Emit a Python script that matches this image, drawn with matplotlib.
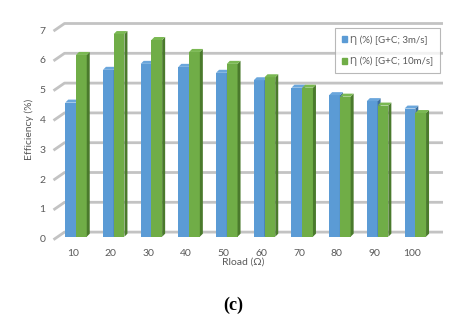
import matplotlib
matplotlib.use("Agg")
import matplotlib.pyplot as plt
from matplotlib.patches import Patch
import numpy as np

plt.rcParams['font.family'] = ['Lato', 'DejaVu Sans']

categories = ["10", "20", "30", "40", "50", "60", "70", "80", "90", "100"]
eff_3ms = [4.5, 5.6, 5.8, 5.7, 5.5, 5.25, 5.0, 4.75, 4.55, 4.3]
eff_10ms = [6.1, 6.8, 6.6, 6.2, 5.8, 5.35, 5.0, 4.7, 4.4, 4.15]
yticks = [0, 1, 2, 3, 4, 5, 6, 7]
labels = ["\u0220 (%) [G+C; 3m/s]", "\u0220 (%) [G+C; 10m/s]"]

W, H = 474, 323
fig = plt.figure(figsize=(W / 100, H / 100), dpi=100)

# pixel geometry of the plot
px_x0, px_step = 76.0, 37.7      # x pixel of cluster 0 center, spacing
px_y0, px_unit = 236.7, 29.8     # y pixel of value 0, pixels per unit
ax_left_px, ax_right_px = 50, 447
ax_top_px, ax_bot_px = 18, 244
xlim = ((ax_left_px - px_x0) / px_step, (ax_right_px - px_x0) / px_step)
ylim = ((px_y0 - ax_bot_px) / px_unit, (px_y0 - ax_top_px) / px_unit)
ax = fig.add_axes([ax_left_px / W, 1 - ax_bot_px / H,
                   (ax_right_px - ax_left_px) / W, (ax_bot_px - ax_top_px) / H])
ax.set_xlim(*xlim)
ax.set_ylim(*ylim)
ax.axis("off")

# 3D offsets (data units)
dx = 3.0 / px_step
dy = 3.0 / px_unit
back_dy = 4.6 / px_unit
diag_x0 = (53.5 - px_x0) / px_step
diag_x1 = (64.5 - px_x0) / px_step
grid_x1 = (443 - px_x0) / px_step
diag_front = -0.1

grid_col = "#c3c3c3"
for v in yticks:
    ax.plot([diag_x0, diag_x1, grid_x1], [v + diag_front, v + back_dy, v + back_dy],
            color=grid_col, lw=2.0, solid_capstyle="butt", zorder=1)
    ax.text((45.5 - px_x0) / px_step, v - 0.1, str(v), ha="right", va="center",
            fontsize=7.5, color="#595959")

x = np.arange(len(categories))
bw = 0.285

def bar3d(xc, vals, front, side, top, z):
    for xi, v in zip(xc, vals):
        l, r = xi - bw / 2, xi + bw / 2
        ax.bar(xi, v, width=bw, color=front, edgecolor="none", zorder=z)
        ax.fill([r, r + dx, r + dx, r], [0, dy, v + dy, v], color=side, lw=0, zorder=z)
        ax.fill([l, r, r + dx, l + dx], [v, v, v + dy, v + dy], color=top, lw=0, zorder=z)

bar3d(x - bw / 2, eff_3ms, "#5b9bd5", "#3d6f9e", "#6aa6dc", 2)
bar3d(x + bw / 2, eff_10ms, "#70ad47", "#4a7a2c", "#7ab852", 3)

for xi, c in zip(x, categories):
    ax.text(xi - 0.08, (px_y0 - 253.5) / px_unit, c, ha="center", va="center",
            fontsize=7.5, color="#595959")

fig.text(243.5 / W, 1 - 262 / H, "Rload (\u03a9)", ha="center", va="center",
         fontsize=7.5, color="#595959")
fig.text(29 / W, 1 - 129 / H, "Efficiency (%)", ha="center", va="center",
         rotation=90, fontsize=7.5, color="#595959")
fig.text(233 / W, 1 - 305 / H, "(c)", ha="center", va="center",
         fontsize=13, fontweight="bold", family="Liberation Serif", color="black")

handles = [Patch(color="#5b9bd5"), Patch(color="#70ad47")]
leg = fig.legend(handles, labels, loc="upper left",
                 bbox_to_anchor=(335 / W, 1 - 28.3 / H), borderaxespad=0,
                 fontsize=7, frameon=True, fancybox=False, handlelength=0.55,
                 handleheight=0.55, handletextpad=0.3, labelspacing=1.25,
                 borderpad=0.7, labelcolor="#595959")
leg.get_frame().set_edgecolor("#a6a6a6")
leg.get_frame().set_linewidth(0.8)

fig.savefig("out.png", dpi=100)
